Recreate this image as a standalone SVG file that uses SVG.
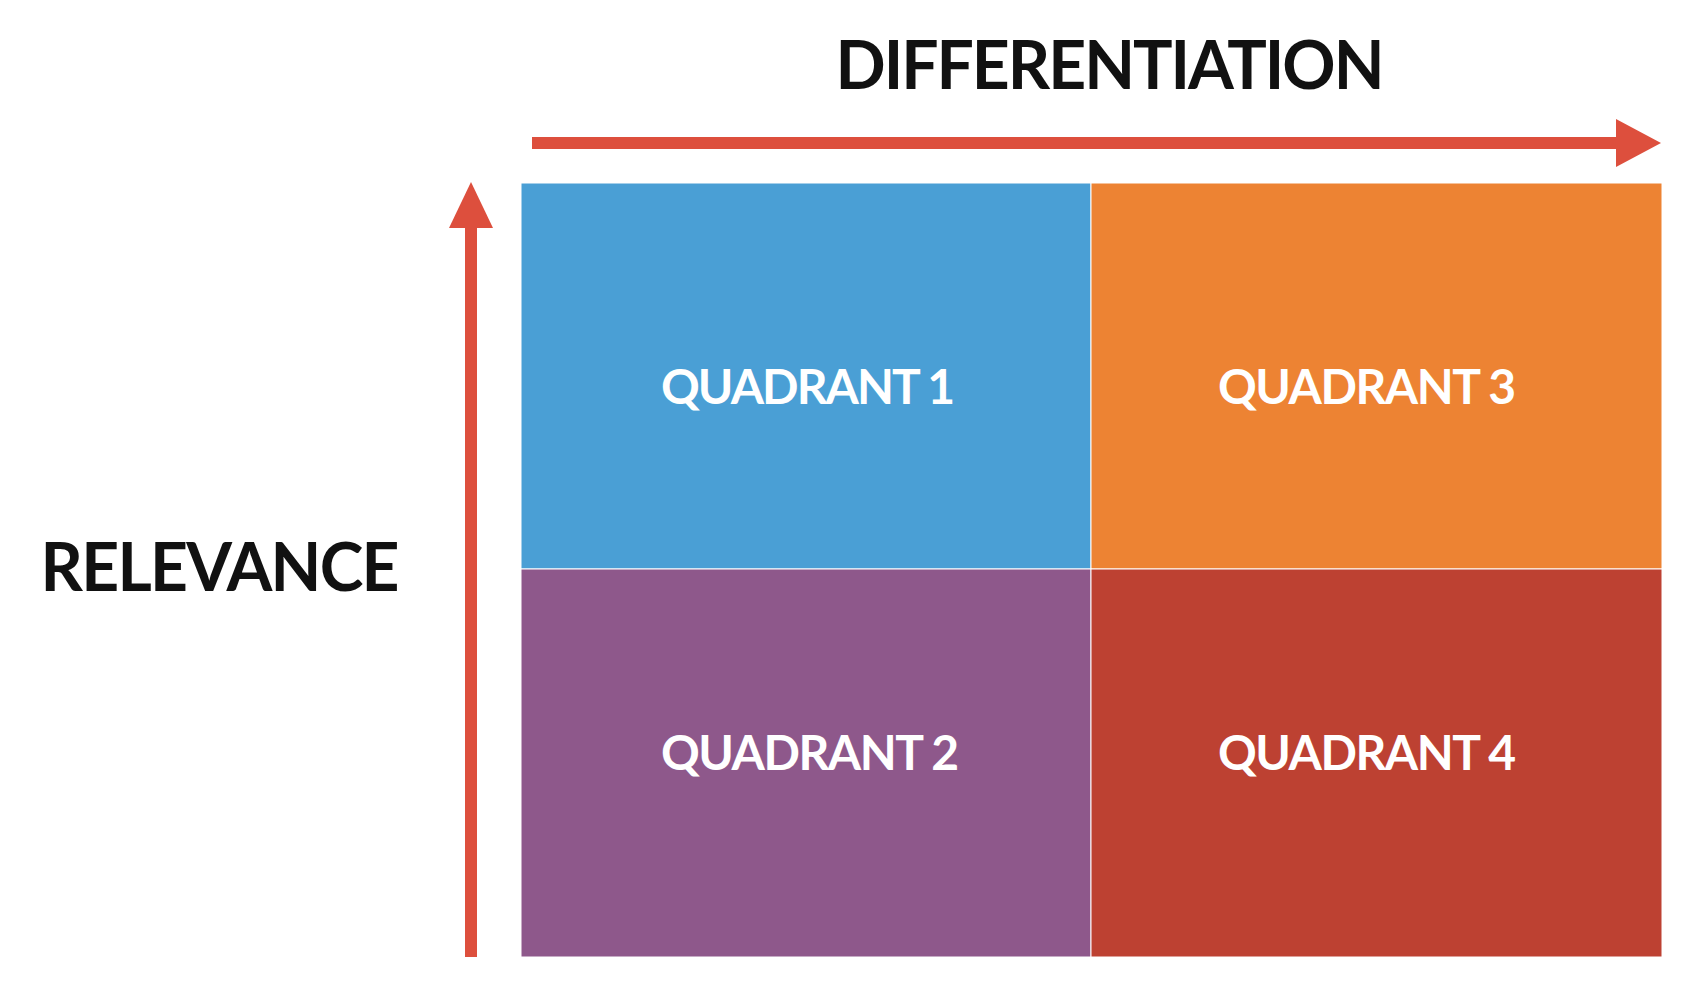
<svg xmlns="http://www.w3.org/2000/svg" width="1706" height="999" viewBox="0 0 1706 999">
<style>
.t{font-family:Lato,"Liberation Sans",sans-serif;font-weight:bold;text-anchor:middle}
.ax{fill:#111;font-size:66px}
.q{fill:#fff;font-size:48px}
.c{stroke:#fff;stroke-width:1}
</style>
<rect width="1706" height="999" fill="#fff"/>
<g id="connectors" fill="#DD4F3D">
<rect x="532" y="137" width="1086" height="12"/>
<polygon points="1616,119 1661,143 1616,167"/>
<rect x="465" y="226" width="12" height="731"/>
<polygon points="449,228 471,182 493,228"/>
</g>
<g id="q1"><rect class="c" x="521" y="183" width="570" height="386" fill="#4A9FD5"/><text class="t q" x="808" y="404" textLength="294">QUADRANT 1</text></g>
<g id="q3"><rect class="c" x="1091" y="183" width="571" height="386" fill="#ED8333"/><text class="t q" x="1367" y="404" textLength="298">QUADRANT 3</text></g>
<g id="q2"><rect class="c" x="521" y="569" width="570" height="388" fill="#8E588B"/><text class="t q" x="810" y="770" textLength="298">QUADRANT 2</text></g>
<g id="q4"><rect class="c" x="1091" y="569" width="571" height="388" fill="#BD4132"/><text class="t q" x="1367" y="770" textLength="298">QUADRANT 4</text></g>
<g id="xlabel"><text class="t ax" x="1110" y="89" textLength="549">DIFFERENTIATION</text></g>
<g id="ylabel"><text class="t ax" x="220" y="591" textLength="359">RELEVANCE</text></g>
</svg>
